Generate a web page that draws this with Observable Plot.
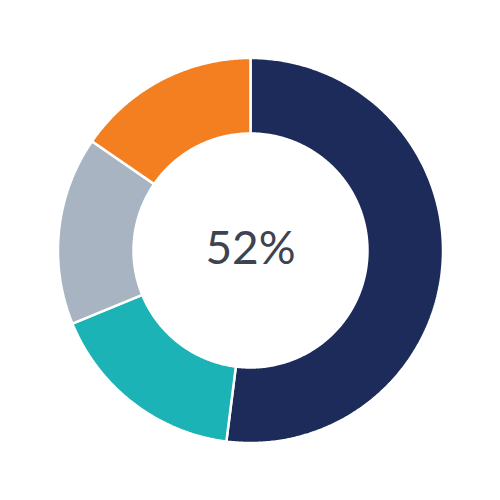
<!DOCTYPE html>
<html>
<head>
<meta charset="utf-8">
<script src="https://cdn.jsdelivr.net/npm/d3@7"></script>
<script src="https://cdn.jsdelivr.net/npm/@observablehq/plot@0.6"></script>
<style>
  html, body { margin: 0; padding: 0; background: #fff; }
  #chart { width: 500px; height: 500px; }
</style>
</head>
<body>
<div id="chart"></div>
<script>
// Data
const categories = ["A", "B", "C", "D"];
const values = [52, 16.8, 15.8, 15.4];
const colors = ["#1c2b59", "#1bb3b6", "#a8b4c2", "#f37f20"];
const centerLabel = ["52%"];

// Layout
const outerR = 192.5;
const innerR = 117;

const pie = d3.pie().sort(null).value(d => d.value)(
  categories.map((c, i) => ({category: c, value: values[i]}))
);

const pts = [];
for (const arc of pie) {
  const a0 = arc.startAngle, a1 = arc.endAngle;
  const n = Math.max(4, Math.ceil((a1 - a0) / (Math.PI / 360)));
  const ring = [];
  for (let k = 0; k <= n; k++) {
    const a = a0 + (a1 - a0) * k / n;
    ring.push([outerR * Math.sin(a), outerR * Math.cos(a)]);
  }
  for (let k = n; k >= 0; k--) {
    const a = a0 + (a1 - a0) * k / n;
    ring.push([innerR * Math.sin(a), innerR * Math.cos(a)]);
  }
  ring.push(ring[0]);
  for (const [x, y] of ring) pts.push({category: arc.data.category, x, y});
}

const chart = Plot.plot({
  width: 500,
  height: 500,
  margin: 0,
  x: {domain: [-250, 250], axis: null},
  y: {domain: [-250, 250], axis: null},
  color: {domain: categories, range: colors},
  style: {background: "#fff"},
  marks: [
    Plot.line(pts, {x: "x", y: "y", z: "category", fill: "category", stroke: "#fff", strokeWidth: 2.5, strokeLinejoin: "miter"}),
    Plot.text(centerLabel, {x: () => 0, y: () => 0, text: d => d, fontSize: 46, fontFamily: "Lato", fill: "#3e4350", dy: -1.5})
  ]
});
document.getElementById("chart").appendChild(chart);
</script>
</body>
</html>
